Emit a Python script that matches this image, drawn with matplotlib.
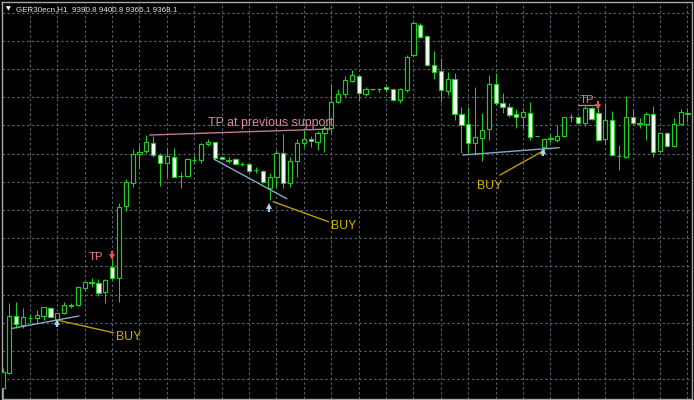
import matplotlib
matplotlib.use("Agg")
import matplotlib.pyplot as plt
import numpy as np

# ---- data (GER30ecn, H1) ----
opens = [9093, 9108, 9164.5, 9156, 9162.5, 9163.3, 9165, 9172.7, 9161, 9167.7,
         9175.3, 9176, 9192.7, 9198, 9198.3, 9188.7, 9213.7, 9202.7, 9275, 9298.3,
         9326.7, 9330, 9337.7, 9326, 9318.3, 9324.3, 9305, 9305, 9320.7, 9321,
         9337, 9338.7, 9324.3, 9320.5, 9321.7, 9317, 9316.7, 9311.2, 9310, 9292.7,
         9304.3, 9327.7, 9297.7, 9320.3, 9337.7, 9342.3, 9339.3, 9347.7, 9352.7, 9379.3,
         9387, 9400.3, 9405, 9387, 9391.6, 9392.2, 9393.7, 9391.7, 9381, 9391,
         9426, 9456, 9445, 9416, 9410, 9390.3, 9402, 9367, 9357, 9337.7,
         9342.7, 9351.7, 9397, 9378.3, 9374.3, 9366.7, 9364.3, 9368.3, 9345, 9333.7,
         9342.5, 9341, 9345, 9363.5, 9363.7, 9357.7, 9372.7, 9368.3, 9341.7, 9361,
         9325.2, 9323.7, 9364.3, 9358.3, 9357, 9366.7, 9330.3, 9347.7, 9335, 9357,
         9368.3]
highs = [9113, 9178, 9179, 9173, 9166, 9171, 9174.3, 9173.7, 9168.3, 9178.7,
         9178, 9194.3, 9199.3, 9202.7, 9201.7, 9201.7, 9222.7, 9277.7, 9301.7, 9331.7,
         9336, 9346, 9345.3, 9327.7, 9332.7, 9332.7, 9309.3, 9322.7, 9326, 9337.7,
         9341.7, 9339.3, 9325, 9323.7, 9322.7, 9319, 9318.3, 9313.7, 9311, 9307.7,
         9331, 9347, 9324.3, 9341.7, 9351, 9345, 9350.3, 9356, 9397, 9392,
         9405, 9411, 9406, 9394.3, 9392, 9392.5, 9395, 9392.3, 9392.7, 9426,
         9459.3, 9457.7, 9446, 9430.3, 9422.7, 9409.3, 9407.7, 9374.3, 9374.3, 9393.7,
         9367.7, 9406, 9407.7, 9387.7, 9378.3, 9371.7, 9372.7, 9379.3, 9345.2, 9343.3,
         9347, 9356, 9364.3, 9366.7, 9364.3, 9375, 9374.3, 9375, 9377.7, 9370.3,
         9336, 9385, 9371.7, 9362.7, 9369.3, 9375, 9349.3, 9349, 9362.7, 9371.7,
         9372.7]
lows = [9079, 9107, 9153, 9153, 9158, 9158, 9161, 9163.5, 9157.5, 9167,
        9173, 9175.3, 9190.3, 9194.3, 9185, 9177.7, 9201, 9179.3, 9270.3, 9294.3,
        9312.7, 9327.7, 9323.7, 9295, 9303.7, 9303.7, 9292.7, 9303.7, 9317.7, 9317.7,
        9335, 9321, 9321, 9317.7, 9316, 9315, 9307.7, 9307.7, 9298.3, 9281,
        9294.3, 9292.7, 9294.3, 9304.3, 9333.7, 9333.7, 9331, 9329.3, 9348.3, 9377.7,
        9384.3, 9399.3, 9380.3, 9385, 9391.4, 9388.7, 9389.3, 9380.3, 9378.3, 9389.3,
        9425, 9442.7, 9415, 9401.7, 9379.3, 9386, 9361, 9327.7, 9327.7, 9326,
        9320.3, 9341, 9376, 9368.3, 9363.7, 9352.7, 9352.7, 9341, 9344.5, 9327.7,
        9339.3, 9339.3, 9343.7, 9359.3, 9357.7, 9355, 9361, 9340.3, 9337, 9325,
        9311, 9323.3, 9356, 9352.7, 9341, 9324.3, 9329.3, 9334.3, 9334.3, 9356,
        9359.3]
closes = [9109, 9165, 9157, 9164.3, 9163, 9166, 9173.7, 9164.3, 9167.7, 9176,
          9176, 9193.7, 9198.7, 9198.5, 9187.7, 9201, 9202.7, 9273.7, 9299.3, 9327,
          9329.3, 9338.7, 9326, 9317.7, 9325, 9304.3, 9304.5, 9321.7, 9321, 9337,
          9339, 9323.3, 9321.7, 9320.3, 9317, 9316.7, 9310.3, 9311, 9299.3, 9303.7,
          9327.7, 9297.7, 9320.3, 9337.7, 9342.3, 9339.7, 9347.7, 9352.7, 9379.3, 9387,
          9401, 9406, 9387.7, 9392, 9391.7, 9392.3, 9391.7, 9381, 9391.7, 9424.3,
          9457.7, 9443.7, 9416, 9408.7, 9391, 9402, 9367, 9356, 9337.7, 9343.7,
          9351, 9397, 9378.3, 9374.3, 9366, 9364.3, 9368.7, 9343.7, 9344.7, 9342.3,
          9342.3, 9345, 9363.7, 9363.7, 9358.3, 9372.7, 9361.7, 9341, 9361, 9326,
          9325, 9364.3, 9358.3, 9357, 9366.7, 9329.3, 9347.7, 9335, 9357, 9369,
          9367]

header = "GER30ecn,H1  9390.8 9400.8 9366.1 9368.1"

# trend lines: (bar0, price0, bar1, price1)
support_lines = [(1.49, 9152.7, 11.12, 9165.0),
                 (30.92, 9321.7, 41.49, 9282.3),
                 (67.27, 9326.0, 81.24, 9333.3)]
tp_line = (21.53, 9346.0, 47.81, 9352.0)
tp_underline = (84.01, 9376.0, 86.79, 9376.0)
# BUY signals: arrow (bar, price), leader line (bar, price -> bar, price), label pos
buy_arrows = [(8.0, 9157.5), (38.95, 9272.7), (78.95, 9328.5)]
buy_leaders = [(8.39, 9160.3, 16.18, 9148.3),
               (39.53, 9279.3, 47.56, 9259.3),
               (78.72, 9329.3, 72.63, 9306.0)]
buy_labels = [(16.5, 9144.0), (47.9, 9254.5), (69.2, 9295.3)]
tp_arrows = [(15.94, 9226.0), (86.98, 9376.0)]
tp_labels = [(12.6, 9224.3, "TP"), (84.3, 9380.5, "TP")]
tp_support_label = (30.0, 9357.5, "TP at previous support")

# ---- figure ----
W, H = 694, 400
fig = plt.figure(figsize=(W / 100, H / 100), dpi=100, facecolor="black")
px_l, px_r, px_t, px_b = 1.7, 692.0, 1.7, 399.0
ax = fig.add_axes([px_l / W, 1 - px_b / H, (px_r - px_l) / W, (px_b - px_t) / H])
ax.set_facecolor("black")
step = 6.85
ax.set_xlim((px_l - 2.5) / step, (px_r - 2.5) / step)
ax.set_ylim(9481 - px_b, 9481 - px_t)

# grid
ax.set_xticks(np.arange(4, 101, 4))
ax.set_yticks(9468.3 - 28.2 * np.arange(14))
ax.grid(True, color="#56636f", linestyle=(0, (2.2, 2.2)), linewidth=0.8)
ax.tick_params(left=False, bottom=False, labelleft=False, labelbottom=False)
ax.set_axisbelow(True)
for s in ax.spines.values():
    s.set_color("#a8a8a8")
    s.set_linewidth(1.0)

o = np.array(opens); h = np.array(highs); l = np.array(lows); c = np.array(closes)
idx = np.arange(len(o))
green = "#1fcc1f"
ax.vlines(idx, l, h, color=green, linewidth=0.75, zorder=2)
bull = c >= o
ax.bar(idx[bull], (c - o)[bull], bottom=o[bull], width=0.62, facecolor="black",
       edgecolor=green, linewidth=0.85, zorder=3)
ax.bar(idx[~bull], (o - c)[~bull], bottom=c[~bull], width=0.62, facecolor="white",
       edgecolor=green, linewidth=0.85, zorder=3)

# support trend lines
for x0, y0, x1, y1 in support_lines:
    ax.plot([x0, x1], [y0, y1], color="#86aac2", linewidth=1.0, zorder=4)
ax.plot([tp_line[0], tp_line[2]], [tp_line[1], tp_line[3]], color="#c07a96", linewidth=1.0, zorder=4)
ax.plot([tp_underline[0], tp_underline[2]], [tp_underline[1], tp_underline[3]],
        color="#c07a96", linewidth=1.0, zorder=4)

gold = "#d4b000"
for x0, y0, x1, y1 in buy_leaders:
    ax.plot([x0, x1], [y0, y1], color="#b8a000", linewidth=1.0, zorder=4)
for x, y in buy_labels:
    ax.text(x, y, "BUY", color=gold, fontsize=8.8, family="Liberation Sans",
            ha="left", va="center", zorder=5)
# up arrows (buy): triangle head above a short shaft
blue_arrow = "#a8d0f0"
for x, y in buy_arrows:
    ax.vlines(x, y - 4.0, y + 0.5, color=blue_arrow, linewidth=1.6, zorder=5)
    ax.plot(x, y + 1.8, marker="^", markersize=5.0, color=blue_arrow,
            markeredgewidth=0, zorder=6)
# down arrows (TP)
red_arrow = "#f05050"
for x, y in tp_arrows:
    ax.vlines(x, y - 0.5, y + 4.0, color=red_arrow, linewidth=1.5, zorder=5)
    ax.plot(x, y - 1.8, marker="v", markersize=4.8, color=red_arrow,
            markeredgewidth=0, zorder=6)
for x, y, t in tp_labels:
    ax.text(x, y, t, color="#e87c80", fontsize=8.2, family="Liberation Sans",
            ha="left", va="center", zorder=5)
ax.text(tp_support_label[0], tp_support_label[1], tp_support_label[2], color="#d88a9e",
        fontsize=8.9, family="Liberation Sans", ha="left", va="center", zorder=5)

# header
fig.text(5.5 / W, 1 - 9.2 / H, "▼", color="white", fontsize=4.5, family="DejaVu Sans",
         ha="left", va="center")
fig.text(16 / W, 1 - 9.2 / H, header, color="#e8e8e8", fontsize=5.8,
         family="Liberation Sans", ha="left", va="center")

fig.savefig("out.png", dpi=100, facecolor="black")
